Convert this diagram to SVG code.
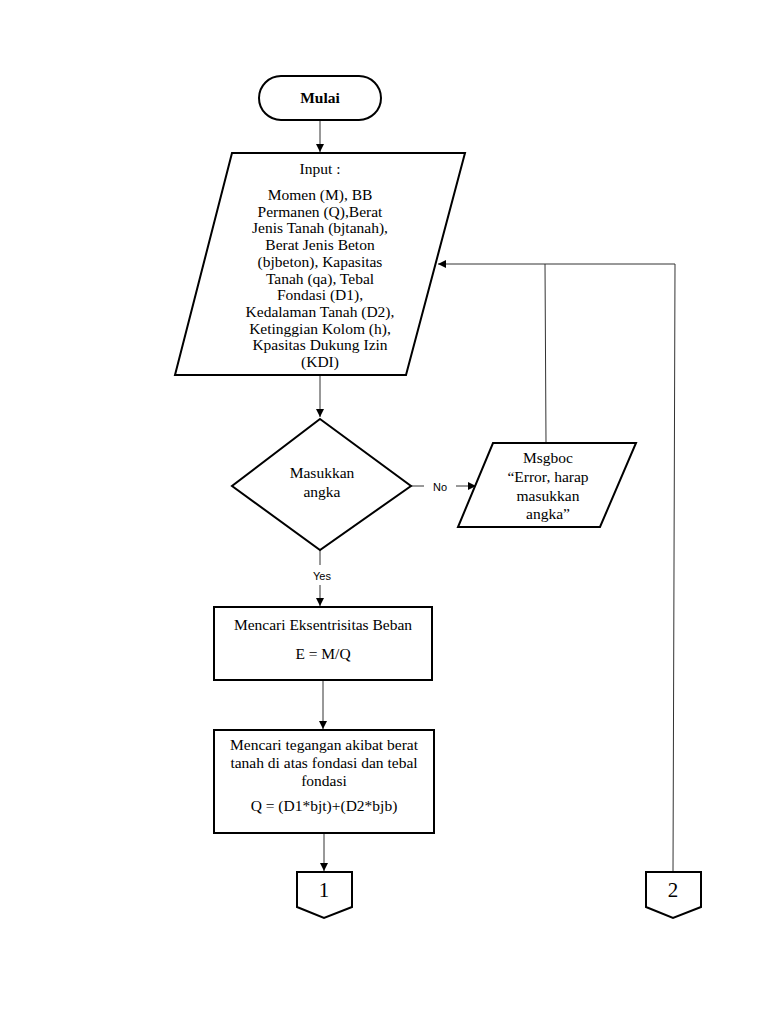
<svg xmlns="http://www.w3.org/2000/svg" width="768" height="1024" viewBox="0 0 768 1024">
<style>
.s{fill:#fff;stroke:#000;stroke-width:2}
.t{font-family:"Liberation Serif","Times New Roman",serif;font-size:15.5px;fill:#000;text-anchor:middle}
.b{font-weight:bold}
.n{font-size:21px}
.l{font-family:"Liberation Sans",Arial,sans-serif;font-size:11px;fill:#000;text-anchor:middle}
.c{fill:none;stroke:#333;stroke-width:1}
</style>
<defs>
<marker id="a" viewBox="0 0 10 10" refX="10" refY="5" markerWidth="8" markerHeight="8" markerUnits="userSpaceOnUse" orient="auto">
<path d="M0,0 L10,5 L0,10 z" fill="#000"/>
</marker>
</defs>
<rect width="768" height="1024" fill="#fff"/>
<g id="connectors">
<line class="c" x1="320" y1="120" x2="320" y2="152" marker-end="url(#a)"/>
<line class="c" x1="320" y1="375" x2="320" y2="417" marker-end="url(#a)"/>
<line class="c" x1="411" y1="486" x2="424" y2="486"/>
<line class="c" x1="456" y1="486" x2="476" y2="486" marker-end="url(#a)"/>
<line class="c" x1="320" y1="550" x2="320" y2="565"/>
<line class="c" x1="320" y1="585" x2="320" y2="606" marker-end="url(#a)"/>
<line class="c" x1="323" y1="680" x2="323" y2="729" marker-end="url(#a)"/>
<line class="c" x1="324" y1="833" x2="324" y2="871" marker-end="url(#a)"/>
<line class="c" x1="546" y1="443" x2="545" y2="264"/>
<polyline class="c" points="673,872 675,264 438,264" marker-end="url(#a)"/>
<text class="l" x="440" y="491">No</text>
<text class="l" x="322" y="580">Yes</text>
</g>
<g id="mulai">
<rect class="s" x="259" y="76" width="122" height="44" rx="22" ry="22"/>
<text class="t b" x="320" y="103">Mulai</text>
</g>
<g id="input">
<polygon class="s" points="232,153 465,153 406,375 175,375"/>
<text class="t" x="320" y="174">Input :</text>
<text class="t" x="320" y="200">Momen (M), BB</text>
<text class="t" x="320" y="216.7">Permanen (Q),Berat</text>
<text class="t" x="320" y="233.4">Jenis Tanah (bjtanah),</text>
<text class="t" x="320" y="250.1">Berat Jenis Beton</text>
<text class="t" x="320" y="266.8">(bjbeton), Kapasitas</text>
<text class="t" x="320" y="283.5">Tanah (qa), Tebal</text>
<text class="t" x="320" y="300.2">Fondasi (D1),</text>
<text class="t" x="320" y="316.9">Kedalaman Tanah (D2),</text>
<text class="t" x="320" y="333.6">Ketinggian Kolom (h),</text>
<text class="t" x="320" y="350.3">Kpasitas Dukung Izin</text>
<text class="t" x="320" y="367">(KDI)</text>
</g>
<g id="decision">
<polygon class="s" points="320,419 411,486 320,550 232,486"/>
<text class="t" x="322" y="478">Masukkan</text>
<text class="t" x="322" y="497">angka</text>
</g>
<g id="msgbox">
<polygon class="s" points="493,443 636,443 600,527 458,527"/>
<text class="t" x="548" y="463">Msgboc</text>
<text class="t" x="548" y="482">“Error, harap</text>
<text class="t" x="548" y="501">masukkan</text>
<text class="t" x="548" y="519">angka”</text>
</g>
<g id="eksentrisitas">
<rect class="s" x="214" y="607" width="218" height="73"/>
<text class="t" x="323" y="630">Mencari Eksentrisitas Beban</text>
<text class="t" x="323" y="659">E = M/Q</text>
</g>
<g id="tegangan">
<rect class="s" x="214" y="730" width="220" height="103"/>
<text class="t" x="324" y="750">Mencari tegangan akibat berat</text>
<text class="t" x="324" y="768">tanah di atas fondasi dan tebal</text>
<text class="t" x="324" y="786">fondasi</text>
<text class="t" x="324" y="811">Q = (D1*bjt)+(D2*bjb)</text>
</g>
<g id="connector1">
<polygon class="s" points="297,872 352,872 352,907 324,918 297,907"/>
<text class="t n" x="324" y="897">1</text>
</g>
<g id="connector2">
<polygon class="s" points="646,872 701,872 701,907 673,918 646,907"/>
<text class="t n" x="673" y="897">2</text>
</g>
</svg>
